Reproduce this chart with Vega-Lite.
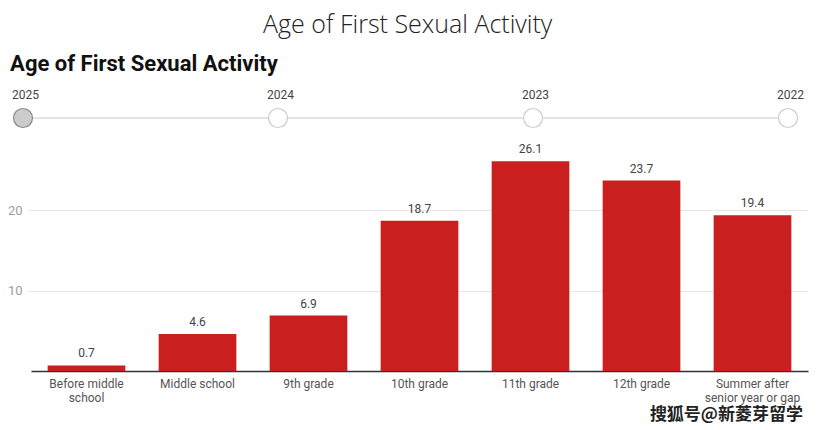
{
  "$schema": "https://vega.github.io/schema/vega-lite/v6.json",
  "padding": {"left": 7, "top": 13, "right": 5, "bottom": 5},
  "background": "white",
  "bounds": "flush",
  "title": {
    "text": "Age of First Sexual Activity",
    "font": "Open Sans",
    "fontWeight": 300,
    "fontSize": 25,
    "color": "#222222",
    "anchor": "middle",
    "offset": 15
  },
  "spacing": 1,
  "vconcat": [
    {
      "width": 777,
      "height": 22,
      "title": {
        "text": "Age of First Sexual Activity",
        "font": "Roboto",
        "fontWeight": "bold",
        "fontSize": 22,
        "color": "#111111",
        "anchor": "start",
        "dx": -1,
        "offset": 13
      },
      "data": {
        "values": [
          {"year": "2025", "idx": 0},
          {"year": "2024", "idx": 1},
          {"year": "2023", "idx": 2},
          {"year": "2022", "idx": 3}
        ]
      },
      "encoding": {
        "x": {
          "field": "idx",
          "type": "quantitative",
          "scale": {"domain": [0.0314, 3.0785], "nice": false, "zero": false},
          "axis": null
        }
      },
      "layer": [
        {
          "mark": {"type": "line", "color": "#cccccc", "strokeWidth": 1.2}
        },
        {
          "mark": {"type": "point", "filled": true, "size": 360, "strokeWidth": 1.2, "opacity": 1},
          "encoding": {
            "fill": {
              "condition": {"test": "datum.year === '2025'", "value": "#cccccc"},
              "value": "#ffffff"
            },
            "stroke": {
              "condition": {"test": "datum.year === '2025'", "value": "#8a8a8a"},
              "value": "#cccccc"
            }
          }
        },
        {
          "mark": {"type": "text", "align": "left", "baseline": "alphabetic", "dx": -11, "dy": -19, "fontSize": 12, "color": "#444444", "font": "Roboto"},
          "encoding": {"text": {"field": "year"}}
        }
      ]
    },
    {
      "width": 777,
      "height": 241,
      "title": {
        "text": "搜狐号@新菱芽留学",
        "orient": "bottom",
        "anchor": "end",
        "font": "Noto Sans CJK SC",
        "fontWeight": "bold",
        "fontSize": 17,
        "color": "#222222",
        "dx": -5,
        "offset": 4
      },
      "data": {
        "values": [
          {"stage": "Before middle school", "percent": 0.7},
          {"stage": "Middle school", "percent": 4.6},
          {"stage": "9th grade", "percent": 6.9},
          {"stage": "10th grade", "percent": 18.7},
          {"stage": "11th grade", "percent": 26.1},
          {"stage": "12th grade", "percent": 23.7},
          {"stage": "Summer after senior year or gap", "percent": 19.4}
        ]
      },
      "encoding": {
        "x": {
          "field": "stage",
          "type": "nominal",
          "sort": null,
          "scale": {"paddingInner": 0.3, "paddingOuter": 0.15},
          "axis": {
            "title": null,
            "labelAngle": 0,
            "ticks": false,
            "domainColor": "#333333",
            "domainWidth": 1.5,
            "labelColor": "#555555",
            "labelFontSize": 12,
            "labelFont": "Roboto",
            "labelPadding": 7,
            "labelLineHeight": 14,
            "labelExpr": "datum.label == 'Before middle school' ? ['Before middle', 'school'] : datum.label == 'Summer after senior year or gap' ? ['Summer after', 'senior year or gap'] : datum.label"
          }
        },
        "y": {
          "field": "percent",
          "type": "quantitative",
          "scale": {"domain": [0, 30], "nice": false},
          "axis": {
            "title": null,
            "values": [10, 20],
            "domain": false,
            "gridColor": "#e6e6e6",
            "tickColor": "#e6e6e6",
            "tickSize": 3,
            "labelColor": "#9e9e9e",
            "labelFontSize": 13,
            "labelFont": "Roboto",
            "labelPadding": 6
          }
        }
      },
      "layer": [
        {"mark": {"type": "bar", "color": "#c91f1f"}},
        {
          "mark": {"type": "text", "baseline": "alphabetic", "dy": -8, "fontSize": 12, "color": "#444444", "font": "Roboto"},
          "encoding": {"text": {"field": "percent", "type": "quantitative", "format": ".1f"}}
        }
      ]
    }
  ],
  "config": {"view": {"stroke": null}, "font": "Roboto"}
}
